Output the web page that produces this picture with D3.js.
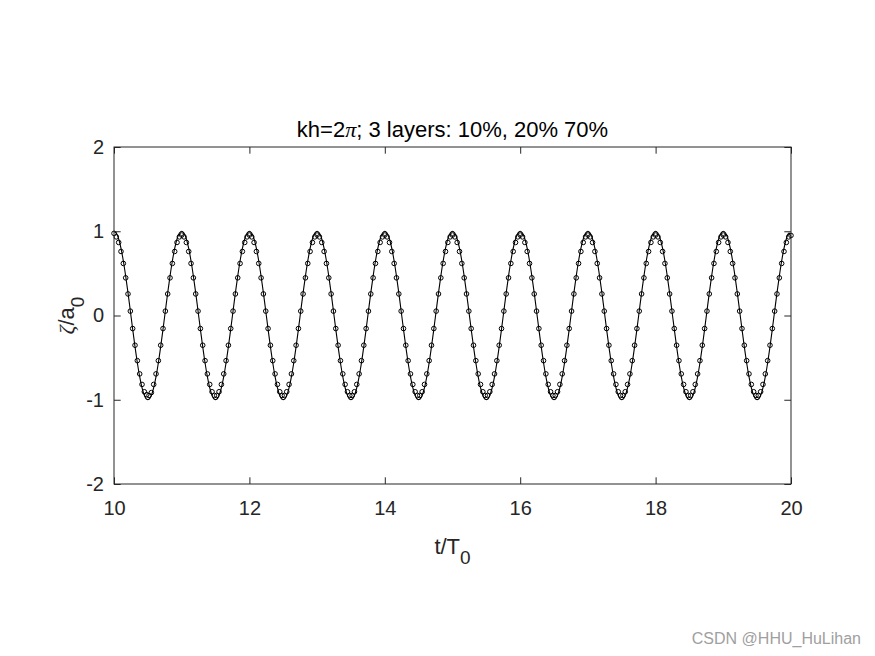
<!DOCTYPE html>
<html>
<head>
<meta charset="utf-8">
<script src="https://cdn.jsdelivr.net/npm/d3@7"></script>
<style>
  body { margin: 0; background: #fff; }
  svg { display: block; }
  text { font-family: "Liberation Sans", Arial, Helvetica, sans-serif; fill: #262626; }
</style>
</head>
<body>
<div id="chart"></div>
<script>
// samples: t = tStart + i * dt, 29 samples per wave period
const tStart = 10;
const dt = 1 / 29;

// solid line (analytic surface elevation, zeta/a0)
const lineZeta = [
  1.000,0.977,0.908,0.796,0.647,0.468,0.268,0.054,-0.162,-0.370,-0.561,-0.726,-0.857,-0.948,-0.994,-0.994,-0.948,-0.857,-0.726,-0.561,-0.370,-0.162,0.054,0.268,0.468,0.647,0.796,0.908,0.977,
  1.000,0.977,0.908,0.796,0.647,0.468,0.268,0.054,-0.162,-0.370,-0.561,-0.726,-0.857,-0.948,-0.994,-0.994,-0.948,-0.857,-0.726,-0.561,-0.370,-0.162,0.054,0.268,0.468,0.647,0.796,0.908,0.977,
  1.000,0.977,0.908,0.796,0.647,0.468,0.268,0.054,-0.162,-0.370,-0.561,-0.726,-0.857,-0.948,-0.994,-0.994,-0.948,-0.857,-0.726,-0.561,-0.370,-0.162,0.054,0.268,0.468,0.647,0.796,0.908,0.977,
  1.000,0.977,0.908,0.796,0.647,0.468,0.268,0.054,-0.162,-0.370,-0.561,-0.726,-0.857,-0.948,-0.994,-0.994,-0.948,-0.857,-0.726,-0.561,-0.370,-0.162,0.054,0.268,0.468,0.647,0.796,0.908,0.977,
  1.000,0.977,0.908,0.796,0.647,0.468,0.268,0.054,-0.162,-0.370,-0.561,-0.726,-0.857,-0.948,-0.994,-0.994,-0.948,-0.857,-0.726,-0.561,-0.370,-0.162,0.054,0.268,0.468,0.647,0.796,0.908,0.977,
  1.000,0.977,0.908,0.796,0.647,0.468,0.268,0.054,-0.162,-0.370,-0.561,-0.726,-0.857,-0.948,-0.994,-0.994,-0.948,-0.857,-0.726,-0.561,-0.370,-0.162,0.054,0.268,0.468,0.647,0.796,0.908,0.977,
  1.000,0.977,0.908,0.796,0.647,0.468,0.268,0.054,-0.162,-0.370,-0.561,-0.726,-0.857,-0.948,-0.994,-0.994,-0.948,-0.857,-0.726,-0.561,-0.370,-0.162,0.054,0.268,0.468,0.647,0.796,0.908,0.977,
  1.000,0.977,0.908,0.796,0.647,0.468,0.268,0.054,-0.162,-0.370,-0.561,-0.726,-0.857,-0.948,-0.994,-0.994,-0.948,-0.857,-0.726,-0.561,-0.370,-0.162,0.054,0.268,0.468,0.647,0.796,0.908,0.977,
  1.000,0.977,0.908,0.796,0.647,0.468,0.268,0.054,-0.162,-0.370,-0.561,-0.726,-0.857,-0.948,-0.994,-0.994,-0.948,-0.857,-0.726,-0.561,-0.370,-0.162,0.054,0.268,0.468,0.647,0.796,0.908,0.977,
  1.000,0.977,0.908,0.796,0.647,0.468,0.268,0.054,-0.162,-0.370,-0.561,-0.726,-0.857,-0.948,-0.994,-0.994,-0.948,-0.857,-0.726,-0.561,-0.370,-0.162,0.054,0.268,0.468,0.647,0.796,0.908,0.977,
  0.965
];

// circle markers (3-layer model result)
const markerZeta = [
  0.975,0.933,0.867,0.760,0.618,0.447,0.256,0.052,-0.155,-0.353,-0.536,-0.693,-0.818,-0.905,-0.940,-0.949,-0.915,-0.818,-0.693,-0.536,-0.353,-0.155,0.052,0.256,0.447,0.618,0.760,0.867,0.933,
  0.955,0.933,0.867,0.760,0.618,0.447,0.256,0.052,-0.155,-0.353,-0.536,-0.693,-0.818,-0.905,-0.949,-0.949,-0.905,-0.818,-0.693,-0.536,-0.353,-0.155,0.052,0.256,0.447,0.618,0.760,0.867,0.933,
  0.955,0.933,0.867,0.760,0.618,0.447,0.256,0.052,-0.155,-0.353,-0.536,-0.693,-0.818,-0.905,-0.949,-0.949,-0.905,-0.818,-0.693,-0.536,-0.353,-0.155,0.052,0.256,0.447,0.618,0.760,0.867,0.933,
  0.955,0.933,0.867,0.760,0.618,0.447,0.256,0.052,-0.155,-0.353,-0.536,-0.693,-0.818,-0.905,-0.949,-0.949,-0.905,-0.818,-0.693,-0.536,-0.353,-0.155,0.052,0.256,0.447,0.618,0.760,0.867,0.933,
  0.955,0.933,0.867,0.760,0.618,0.447,0.256,0.052,-0.155,-0.353,-0.536,-0.693,-0.818,-0.905,-0.949,-0.949,-0.905,-0.818,-0.693,-0.536,-0.353,-0.155,0.052,0.256,0.447,0.618,0.760,0.867,0.933,
  0.955,0.933,0.867,0.760,0.618,0.447,0.256,0.052,-0.155,-0.353,-0.536,-0.693,-0.818,-0.905,-0.949,-0.949,-0.905,-0.818,-0.693,-0.536,-0.353,-0.155,0.052,0.256,0.447,0.618,0.760,0.867,0.933,
  0.955,0.933,0.867,0.760,0.618,0.447,0.256,0.052,-0.155,-0.353,-0.536,-0.693,-0.818,-0.905,-0.949,-0.949,-0.905,-0.818,-0.693,-0.536,-0.353,-0.155,0.052,0.256,0.447,0.618,0.760,0.867,0.933,
  0.955,0.933,0.867,0.760,0.618,0.447,0.256,0.052,-0.155,-0.353,-0.536,-0.693,-0.818,-0.905,-0.949,-0.949,-0.905,-0.818,-0.693,-0.536,-0.353,-0.155,0.052,0.256,0.447,0.618,0.760,0.867,0.933,
  0.955,0.933,0.867,0.760,0.618,0.447,0.256,0.052,-0.155,-0.353,-0.536,-0.693,-0.818,-0.905,-0.949,-0.949,-0.905,-0.818,-0.693,-0.536,-0.353,-0.155,0.052,0.256,0.447,0.618,0.760,0.867,0.933,
  0.955,0.933,0.867,0.760,0.618,0.447,0.256,0.052,-0.155,-0.353,-0.536,-0.693,-0.818,-0.905,-0.949,-0.949,-0.905,-0.818,-0.693,-0.536,-0.353,-0.155,0.052,0.256,0.447,0.618,0.760,0.867,0.933,
  0.950
];

const xTicks = [10, 12, 14, 16, 18, 20];
const yTicks = [-2, -1, 0, 1, 2];

const width = 875, height = 656;
const margin = { top: 147, right: 84, bottom: 172, left: 114 };
const w = width - margin.left - margin.right,
  h = height - margin.top - margin.bottom;
const tickLen = 6.7;

const svg = d3.select("#chart").append("svg")
  .attr("width", width)
  .attr("height", height);

const g = svg.append("g")
  .attr("transform", `translate(${margin.left},${margin.top})`);

const x = d3.scaleLinear().domain([10, 20]).range([0, w]);
const y = d3.scaleLinear().domain([-2, 2]).range([h, 0]);

const tOf = i => tStart + i * dt;

g.append("rect")
  .attr("width", w)
  .attr("height", h)
  .attr("fill", "#fff");

const line = d3.line()
  .x((d, i) => x(tOf(i)))
  .y(d => y(d))
  .curve(d3.curveCatmullRom);

g.append("path")
  .datum(lineZeta)
  .attr("d", line)
  .attr("fill", "none")
  .attr("stroke", "#000")
  .attr("stroke-width", 1.1);

g.append("g")
  .selectAll("circle")
  .data(markerZeta)
  .enter().append("circle")
  .attr("cx", (d, i) => x(tOf(i)))
  .attr("cy", d => y(d))
  .attr("r", 2.3)
  .attr("fill", "none")
  .attr("stroke", "#000")
  .attr("stroke-width", 1);

// axes: ticks inside, mirrored on all four sides
const fmt = d => String(d);
const axisStyle = sel => {
  sel.select(".domain").remove();
  sel.selectAll(".tick line").attr("stroke", "#262626").attr("stroke-width", 1);
  sel.selectAll(".tick text")
    .style("font-size", "20px")
    .attr("fill", "#262626");
};

g.append("g")
  .attr("transform", `translate(0,${h})`)
  .call(d3.axisBottom(x).tickValues(xTicks).tickFormat(fmt).tickSizeInner(-tickLen).tickPadding(17))
  .call(axisStyle);

g.append("g")
  .call(d3.axisTop(x).tickValues(xTicks).tickSizeInner(-tickLen).tickFormat(""))
  .call(axisStyle);

g.append("g")
  .call(d3.axisLeft(y).tickValues(yTicks).tickFormat(fmt).tickSizeInner(-tickLen).tickPadding(10))
  .call(axisStyle);

g.append("g")
  .attr("transform", `translate(${w},0)`)
  .call(d3.axisRight(y).tickValues(yTicks).tickSizeInner(-tickLen).tickFormat(""))
  .call(axisStyle);

g.append("rect")
  .attr("width", w)
  .attr("height", h)
  .attr("fill", "none")
  .attr("stroke", "#262626")
  .attr("stroke-width", 1);

// title
const title = g.append("text")
  .attr("x", w / 2)
  .attr("y", -10)
  .attr("text-anchor", "middle")
  .style("font-size", "22px")
  .style("fill", "#000");
title.append("tspan").text("kh=2");
title.append("tspan").style("font-family", "'Liberation Serif', 'Times New Roman', serif").style("font-style", "italic").text("\u03c0");
title.append("tspan").text("; 3 layers: 10%, 20% 70%");

// x label
const xl = g.append("text")
  .attr("x", w / 2)
  .attr("y", h + 70)
  .attr("text-anchor", "middle")
  .style("font-size", "22px");
xl.append("tspan").text("t/T");
xl.append("tspan").attr("dy", 10).style("font-size", "19px").text("0");

// y label
const yl = svg.append("text")
  .attr("transform", `translate(74,${margin.top + h / 2}) rotate(-90)`)
  .attr("text-anchor", "middle")
  .style("font-size", "22px");
yl.append("tspan").style("font-family", "'Liberation Serif', 'Times New Roman', serif").style("font-style", "italic").text("\u03b6");
yl.append("tspan").text("/a");
yl.append("tspan").attr("dy", 10).style("font-size", "19px").text("0");

// watermark
svg.append("text")
  .attr("x", 861)
  .attr("y", 644)
  .attr("text-anchor", "end")
  .style("font-size", "16px")
  .style("fill", "#a0a0a0")
  .text("CSDN @HHU_HuLihan");
</script>
</body>
</html>
